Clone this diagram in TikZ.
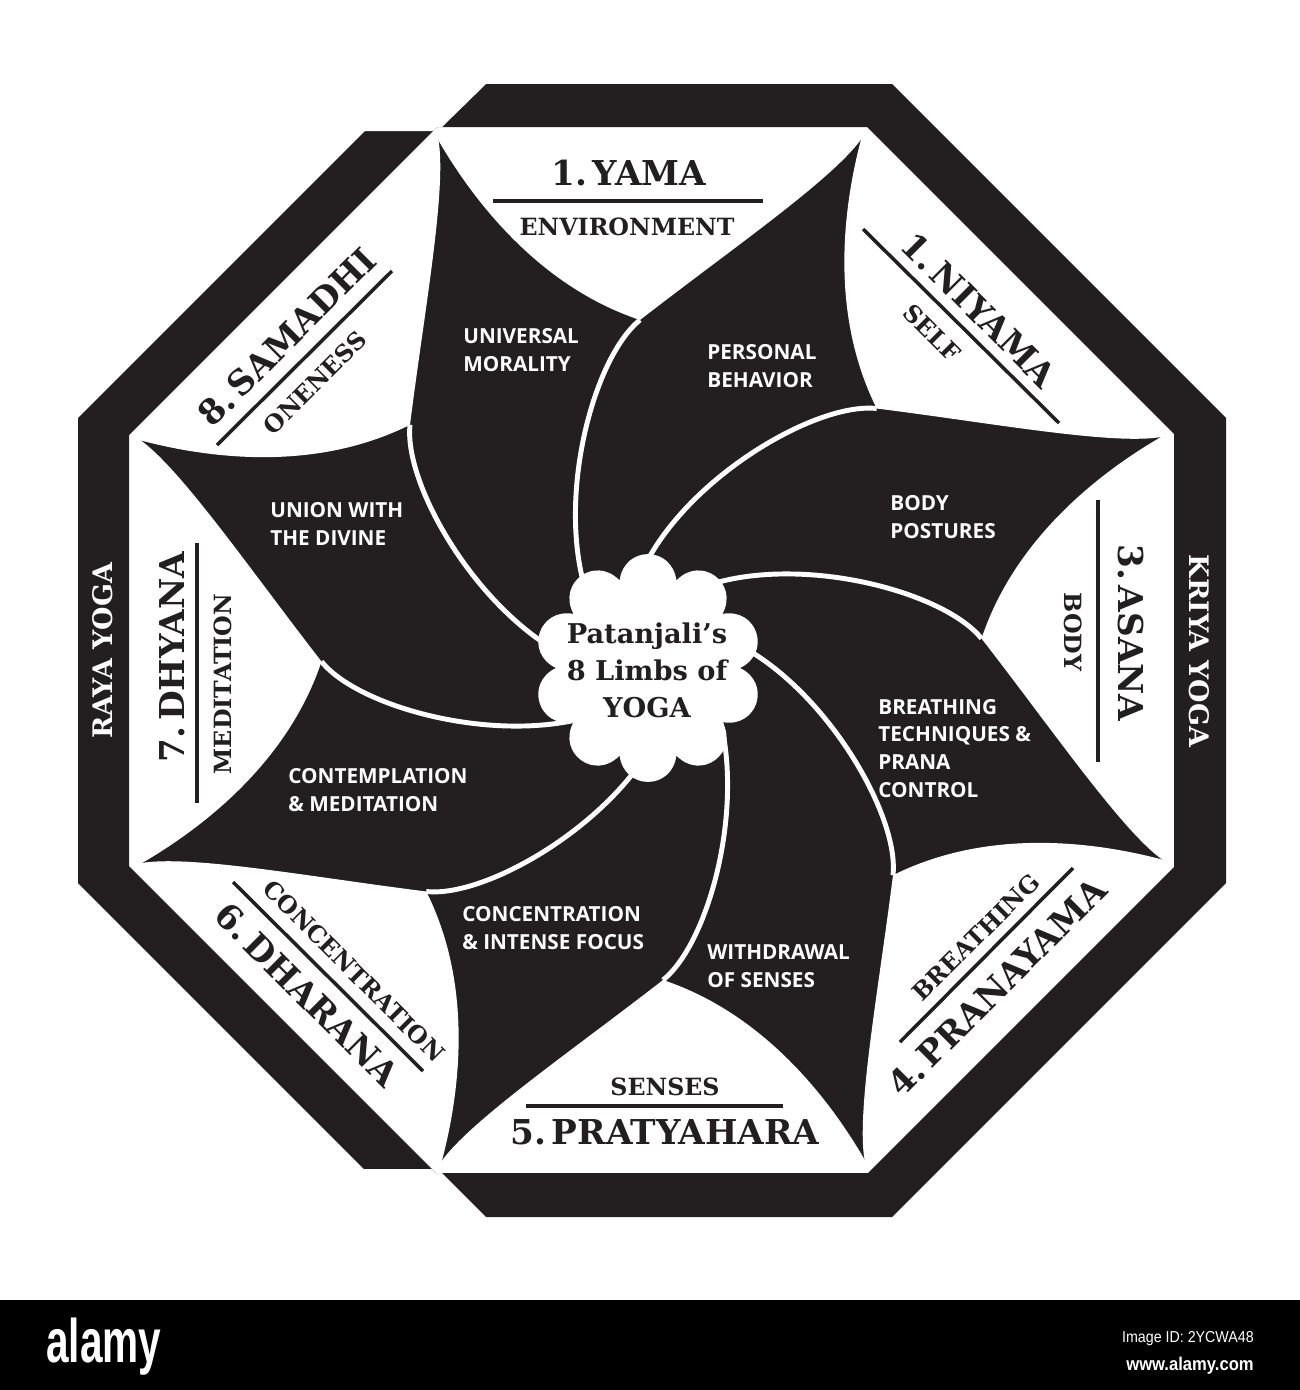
\documentclass[tikz,border=0pt]{standalone}
\usepackage{fontspec}
\newfontfamily\serifbf{DejaVu Serif}
\newfontfamily\sansbf{Open Sans}
\newfontfamily\wmfont{Liberation Sans}
\definecolor{ink}{HTML}{231F20}
\newcommand{\ns}{\hspace{0.16em}}
\tikzset{
  limbtitle/.style={font=\serifbf\bfseries\fontsize{19.5}{23}\selectfont, text=ink, inner sep=0pt},
  limbsub/.style={font=\serifbf\bfseries\fontsize{13.5}{16}\selectfont, text=ink, inner sep=0pt},
  ringlabel/.style={font=\serifbf\bfseries\fontsize{15.3}{18}\selectfont, text=white, inner sep=0pt},
  petallabel/.style={font=\sansbf\bfseries\fontsize{11.8}{15.9}\selectfont, text=white, align=left, anchor=west, inner sep=0pt},
  limbrule/.style={draw=ink, line width=2pt},
  divider/.style={draw=white, line width=2.8pt},
}
\begin{document}
\begin{tikzpicture}[x=0.02cm,y=-0.02cm]
\useasboundingbox (0,0) rectangle (1300,1390);
\fill[white] (0,0) rectangle (1300,1390);

% inner octagon (petals)
\fill[ink] (437,127) -- (867,127) -- (1174,434) -- (1174,867) -- (868,1173) -- (436,1173) -- (129,866) -- (129,435) -- cycle;

% white side regions and dividers
\foreach \k in {0,...,7}{
  \begin{scope}[rotate around={45*\k:(651.5,650)}]
    \fill[white] (437,138) -- (397,108) -- (902,108) -- (862,138)
      .. controls (833.5,179) and (730,250) .. (640,320)
      .. controls (535,285) and (469.5,194.5) .. (437,138) -- cycle;
    \draw[divider] (640,320) .. controls (590,360) and (550,520) .. (595,615);
  \end{scope}
}

% centre flower
\begin{scope}[shift={(648,668)}]
  \fill[white] (0:92) \foreach \i in {0,...,9}{
     .. controls ({36*\i+7}:125) and ({36*\i+29}:125) .. ({36*\i+36}:92) } -- cycle;
\end{scope}
\node[font=\serifbf\bfseries\fontsize{15.5}{21}\selectfont, text=ink, align=center, inner sep=0pt] (centre) at (647,670) {Patanjali’s\\8 Limbs of\\YOGA};

% octagon ring
\fill[ink, even odd rule] (412,84) -- (892,84) -- (1226,418) -- (1226,883) -- (892,1217) -- (412,1217) -- (78,883) -- (78,418) -- cycle
  (437,127) -- (867,127) -- (1174,434) -- (1174,867) -- (868,1173) -- (436,1173) -- (129,866) -- (129,435) -- cycle;
% corner notches
\fill[white] (340,131) -- (433,131) -- (437,127) -- (442,127) -- (486,84) -- (486,70) -- (340,70) -- cycle;
\fill[white] (340,1169) -- (432,1169) -- (436,1173) -- (442,1173) -- (486,1217) -- (486,1230) -- (340,1230) -- cycle;

\node[ringlabel, rotate=-90] (kriya) at (1199,651) {KRIYA YOGA};
\node[ringlabel, rotate=90] (raya) at (103,651) {RAYA YOGA};

% petal labels
\node[petallabel] (lA) at (463,350) {UNIVERSAL\\MORALITY};
\node[petallabel] (lB) at (707,366) {PERSONAL\\BEHAVIOR};
\node[petallabel] (lC) at (890,517) {BODY\\POSTURES};
\node[petallabel] (lD) at (878,748.5) {BREATHING\\TECHNIQUES \&\\PRANA\\CONTROL};
\node[petallabel] (lE) at (707,966) {WITHDRAWAL\\OF SENSES};
\node[petallabel] (lF) at (462,928) {CONCENTRATION\\\& INTENSE FOCUS};
\node[petallabel] (lG) at (288,790) {CONTEMPLATION\\\& MEDITATION};
\node[petallabel] (lH) at (270,524) {UNION WITH\\THE DIVINE};

% limb names
\node[limbtitle] (t1) at (629,173) {1.\ns YAMA};
\node[limbsub] (s1) at (627,226.5) {ENVIRONMENT};
\draw[limbrule] (493,201) -- (763,201);

\node[limbtitle, rotate=-45] (t2) at (979,310) {1.\ns NIYAMA};
\node[limbsub, rotate=-45] (s2) at (932,333) {SELF};
\draw[limbrule] (863,229) -- (1059,423);

\node[limbtitle, rotate=-90] (t3) at (1131,633) {3.\ns ASANA};
\node[limbsub, rotate=-90] (s3) at (1073,632) {BODY};
\draw[limbrule] (1098,500) -- (1098,762);

\node[limbtitle, rotate=45] (t4) at (997,987) {4.\ns PRANAYAMA};
\node[limbsub, rotate=45] (s4) at (976,937) {BREATHING};
\draw[limbrule] (900,1042) -- (1073,868);

\node[limbtitle] (t5) at (665,1132.5) {5.\ns PRATYAHARA};
\node[limbsub] (s5) at (665,1087) {SENSES};
\draw[limbrule] (526,1106) -- (783,1106);

\node[limbtitle, rotate=-45] (t6) at (307,995) {6.\ns DHARANA};
\node[limbsub, rotate=-45] (s6) at (354,971) {CONCENTRATION};
\draw[limbrule] (233,882) -- (423,1071);

\node[limbtitle, rotate=90] (t7) at (172,657) {7.\ns DHYANA};
\node[limbsub, rotate=90] (s7) at (223,684) {MEDITATION};
\draw[limbrule] (197,543) -- (197,803);

\node[limbtitle, rotate=45] (t8) at (287,337) {8.\ns SAMADHI};
\node[limbsub, rotate=45] (s8) at (315,383) {ONENESS};
\draw[limbrule] (217,445) -- (392,271);

% bottom stock band
\fill[black] (0,1300) rectangle (1300,1390);
\node[font=\wmfont\bfseries\fontsize{35}{35}\selectfont, text=white, xscale=0.66, anchor=base west, inner sep=0pt] (alamy) at (46,1362) {alamy};
\node[font=\wmfont\fontsize{9}{10}\selectfont, text=white, xscale=0.9, anchor=east, inner sep=0pt] (imgid) at (1254,1339) {Image ID: 2YCWA48};
\node[font=\wmfont\bfseries\fontsize{10.5}{11}\selectfont, text=white, xscale=0.9, anchor=east, inner sep=0pt] (www) at (1254,1366) {www.alamy.com};
\end{tikzpicture}
\end{document}
